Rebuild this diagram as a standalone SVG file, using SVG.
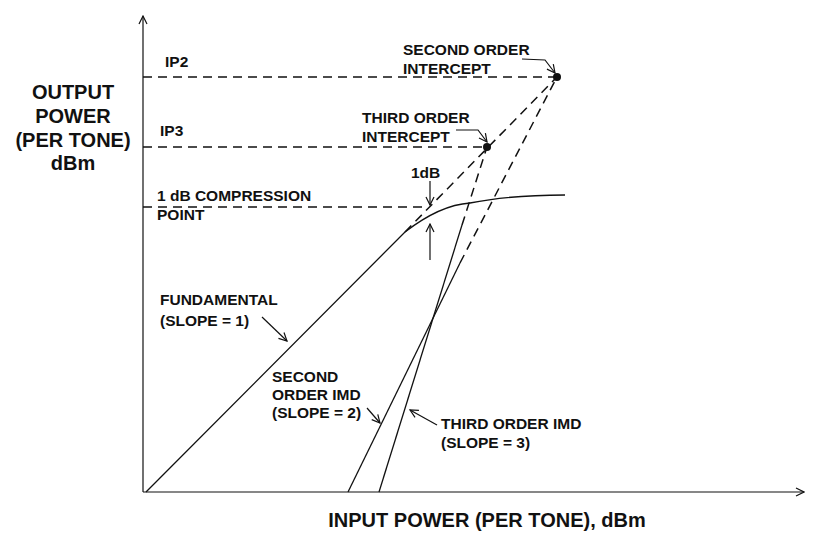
<svg xmlns="http://www.w3.org/2000/svg" width="818" height="536" viewBox="0 0 818 536">
<style>
text{font-family:"Liberation Sans",Arial,sans-serif;font-weight:bold;fill:#111}
.s{font-size:15.5px}.b{font-size:20px}
.l{stroke:#111;stroke-width:1.3;fill:none}
.d{stroke:#111;stroke-width:1.5;fill:none;stroke-dasharray:9,6}
.a{stroke:#111;stroke-width:1.2;fill:none;marker-end:url(#ah)}
</style>
<defs><marker id="ah" markerWidth="10" markerHeight="10" refX="9" refY="5" orient="auto" markerUnits="userSpaceOnUse"><path d="M1,1 L9,5 L1,9" fill="none" stroke="#111" stroke-width="1.2"/></marker></defs>
<rect width="818" height="536" fill="#fff"/>
<g id="axes">
<line class="a" x1="143" y1="492" x2="143" y2="16"/>
<line class="a" x1="143" y1="492" x2="804" y2="492"/>
</g>
<g id="connectors">
<line class="d" x1="143" y1="77" x2="557" y2="77"/>
<line class="d" x1="143" y1="147" x2="487" y2="147"/>
<line class="d" x1="143" y1="207" x2="428" y2="207"/>
<path class="l" d="M146,492 L405,232 Q440,205 470,203 Q510,195 565,195"/>
<line class="d" x1="405" y1="232" x2="557" y2="77"/>
<line class="l" x1="348" y1="492" x2="460" y2="263"/>
<line class="d" x1="460" y1="263" x2="557" y2="77"/>
<line class="l" x1="379" y1="492" x2="462" y2="225"/>
<line class="d" x1="462" y1="225" x2="487" y2="147"/>
<line class="a" x1="430" y1="181" x2="430" y2="205"/>
<line class="a" x1="430" y1="260" x2="430" y2="224"/>
<path class="a" d="M522,59 L545,60 L555,73"/>
<path class="a" d="M456,130 L478,130 L487,142"/>
<line class="a" x1="262" y1="317" x2="287" y2="341"/>
<line class="a" x1="367" y1="408" x2="380" y2="423"/>
<line class="a" x1="437" y1="425" x2="410" y2="410"/>
</g>
<g id="dots"><circle cx="557" cy="77" r="4" fill="#111"/><circle cx="487" cy="147" r="4" fill="#111"/></g>
<g id="ylabel"><text class="b" text-anchor="middle" x="73" y="99">OUTPUT</text><text class="b" text-anchor="middle" x="73" y="123">POWER</text><text class="b" text-anchor="middle" x="73" y="147">(PER TONE)</text><text class="b" text-anchor="middle" x="73" y="170">dBm</text></g>
<g id="xlabel"><text class="b" text-anchor="middle" x="487" y="527">INPUT POWER (PER TONE), dBm</text></g>
<g id="ip2"><text class="s" x="165" y="67">IP2</text></g>
<g id="ip3"><text class="s" x="160" y="136">IP3</text></g>
<g id="comp"><text class="s" x="157" y="201">1 dB COMPRESSION</text><text class="s" x="157" y="220">POINT</text></g>
<g id="soi"><text class="s" x="403" y="55">SECOND ORDER</text><text class="s" x="403" y="74">INTERCEPT</text></g>
<g id="toi"><text class="s" x="362" y="123">THIRD ORDER</text><text class="s" x="362" y="142">INTERCEPT</text></g>
<g id="db"><text class="s" x="411" y="178">1dB</text></g>
<g id="fund"><text class="s" x="160" y="305">FUNDAMENTAL</text><text class="s" x="160" y="326">(SLOPE = 1)</text></g>
<g id="imd2"><text class="s" x="272" y="382">SECOND</text><text class="s" x="272" y="400">ORDER IMD</text><text class="s" x="272" y="418">(SLOPE = 2)</text></g>
<g id="imd3"><text class="s" x="441" y="429">THIRD ORDER IMD</text><text class="s" x="441" y="448">(SLOPE = 3)</text></g>
</svg>
